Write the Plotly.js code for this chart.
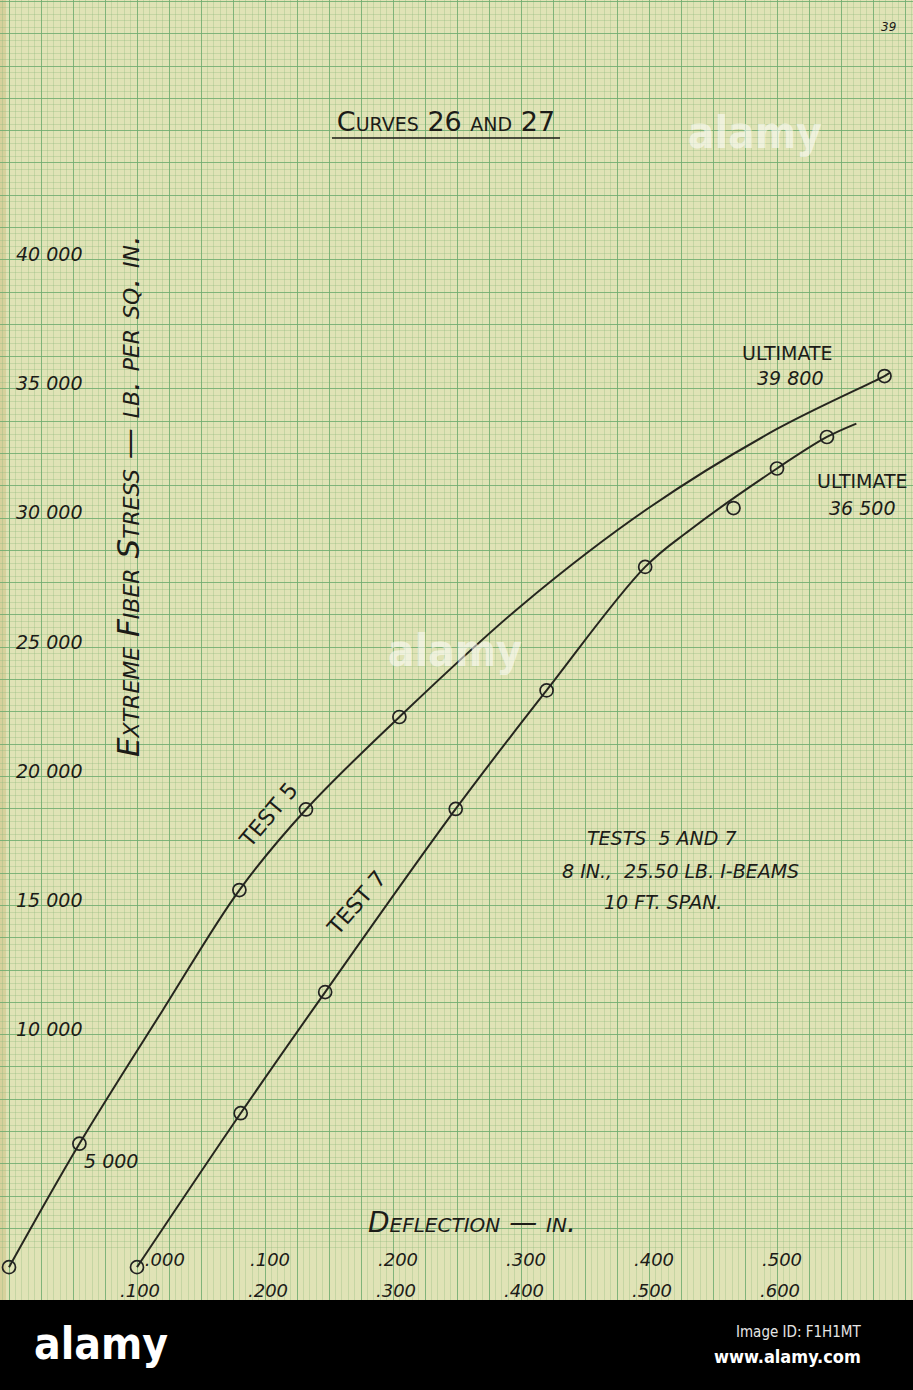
<!DOCTYPE html>
<html>
<head>
<meta charset="utf-8">
<script src="https://cdn.plot.ly/plotly-3.0.1.min.js"></script>
<style>
html,body{margin:0;padding:0;background:#000;}
#chart{width:913px;height:1390px;}
</style>
</head>
<body>
<div id="chart"></div>
<script>
// ---- data ----
// Test 5 (deflection in inches, lower scale) - observed points
const test5Deflection = [0.000, 0.055, 0.180, 0.232, 0.305, 0.684];
const test5Stress     = [1000, 5780, 15600, 18720, 22300, 35500];
// Test 5 faired curve
const test5CurveDeflection = [0.000, 0.055, 0.120, 0.180, 0.232, 0.305, 0.400, 0.500, 0.600, 0.684, 0.688];
const test5CurveStress     = [1000, 5780, 10940, 15600, 18720, 22300, 26600, 30400, 33450, 35500, 35620];

// Test 7 (deflection in inches, upper scale) - observed points
const test7Deflection = [0.000, 0.081, 0.147, 0.249, 0.320, 0.397, 0.466, 0.500, 0.539];
const test7Stress     = [1000, 6960, 11650, 18740, 23330, 28110, 30390, 31920, 33140];
// Test 7 faired curve
const test7CurveDeflection = [0.000, 0.081, 0.147, 0.249, 0.320, 0.397, 0.432, 0.500, 0.539, 0.562];
const test7CurveStress     = [1000, 6960, 11650, 18740, 23330, 28110, 29540, 31920, 33140, 33660];

// tick labels
const stressTickVals = [10000, 15000, 20000, 25000, 30000, 35000, 40000];
const stressTickText = ['10 000', '15 000', '20 000', '25 000', '30 000', '35 000', '40 000'];
const test5TickVals = [0.1, 0.2, 0.3, 0.4, 0.5, 0.6];
const test5TickText = ['.100', '.200', '.300', '.400', '.500', '.600'];
const test7TickVals = [0.0, 0.1, 0.2, 0.3, 0.4, 0.5];
const test7TickText = ['\u00a0\u00a0\u00a0\u00a0\u00a0\u00a0\u00a0\u00a0.000', '.100', '.200', '.300', '.400', '.500'];
const test7Offset = 0.1;   // Test 7 scale is shifted by .100 in. against Test 5

// ---- geometry / style ----
const W = 913, PH = 1300;
const X0PX = 9, PX_PER_IN = 1280;
const Y0PX = 1293, PX_PER_PSI = 0.02583;
const x5Range = [(0 - X0PX) / PX_PER_IN, (W - X0PX) / PX_PER_IN];
const x7Range = [x5Range[0] - test7Offset, x5Range[1] - test7Offset];
const yRange = [(Y0PX - PH) / PX_PER_PSI, Y0PX / PX_PER_PSI];
const px = x => x / W;
const py = y => (PH - y) / PH;

const INK = '#1c1c18';
const FONT = 'DejaVu Sans';
const NARROW = 'Liberation Sans Narrow, DejaVu Sans Condensed, Liberation Sans';
const PAPER = '#e0e3b6';
const MAJ = 'rgba(110,172,112,0.85)';
const MIN = 'rgba(140,185,125,0.32)';

const lineStyle = {color: '#26261f', width: 2, shape: 'spline', smoothing: 1};
const markerStyle = {symbol: 'circle-open', size: 13, color: '#222', line: {width: 1.7, color: '#222'}};

const traces = [
  {x: test5CurveDeflection, y: test5CurveStress, mode: 'lines', line: lineStyle, xaxis: 'x', yaxis: 'y', hoverinfo: 'skip', name: 'Test 5'},
  {x: test5Deflection, y: test5Stress, mode: 'markers', marker: markerStyle, xaxis: 'x3', yaxis: 'y', name: 'Test 5 points'},
  {x: test7CurveDeflection, y: test7CurveStress, mode: 'lines', line: lineStyle, xaxis: 'x2', yaxis: 'y', hoverinfo: 'skip', name: 'Test 7'},
  {x: test7Deflection, y: test7Stress, mode: 'markers', marker: markerStyle, xaxis: 'x2', yaxis: 'y2', name: 'Test 7 points'}
];

const tickFont = {family: FONT, size: 18, color: INK, style: 'italic'};
const yTickFont = {family: FONT, size: 19, color: INK, style: 'italic'};

function ann(text, x, y, opts) {
  return Object.assign({
    text: text, xref: 'paper', yref: 'paper', x: px(x), y: py(y),
    xanchor: 'center', yanchor: 'middle', showarrow: false,
    font: {family: FONT, size: 18, color: INK}
  }, opts || {});
}
function wm(text, x, y, size) {
  return ann(text, x, y, {font: {family: NARROW, size: size, color: 'rgba(255,255,255,0.55)', weight: 'bold'}});
}

const annotations = [
  ann('39', 888, 27, {font: {family: FONT, size: 12, color: INK, style: 'italic'}}),
  ann('Extreme Fiber Stress \u2014 lb. per sq. in.', 128, 496, {textangle: -90, font: {family: FONT, size: 31, color: INK, style: 'italic', variant: 'small-caps'}}),
  ann('Deflection \u2014 in.', 472, 1222, {font: {family: FONT, size: 28, color: INK, style: 'italic', variant: 'small-caps'}}),
  {text: '5 000', xref: 'paper', yref: 'y', x: px(111), y: 5000, xanchor: 'center', yanchor: 'middle', yshift: 3, showarrow: false, font: yTickFont},
  ann('ULTIMATE', 787, 353, {font: {family: FONT, size: 19, color: INK}}),
  ann('39 800', 790, 378, {font: {family: FONT, size: 19, color: INK, style: 'italic'}}),
  ann('ULTIMATE', 862, 481, {font: {family: FONT, size: 19, color: INK}}),
  ann('36 500', 862, 508, {font: {family: FONT, size: 19, color: INK, style: 'italic'}}),
  ann('TESTS \u00a05 AND 7', 662, 838, {font: {family: FONT, size: 19, color: INK, style: 'italic'}}),
  ann('8 IN., \u00a025.50 LB. I-BEAMS', 680, 871, {font: {family: FONT, size: 19, color: INK, style: 'italic'}}),
  ann('10 FT. SPAN.', 663, 902, {font: {family: FONT, size: 19, color: INK, style: 'italic'}}),
  ann('TEST 5', 268, 815, {textangle: -50, font: {family: FONT, size: 22, color: INK}}),
  ann('TEST 7', 356, 903, {textangle: -49, font: {family: FONT, size: 22, color: INK}}),
  // watermarks of the source image
  wm('alamy', 755, 132, 44),
  wm('alamy', 455, 650, 44),
  // banner
  ann('alamy', 101, 1343, {font: {family: NARROW, size: 44, color: '#ffffff', weight: 'bold'}}),
  ann('Image ID: F1H1MT', 863, 1332, {xanchor: 'right', font: {family: NARROW, size: 15, color: '#e6e6e6'}}),
  ann('www.alamy.com', 863, 1356, {xanchor: 'right', font: {family: NARROW, size: 18, color: '#ffffff', weight: 'bold'}})
];

const shapes = [
  {type: 'rect', xref: 'paper', yref: 'paper', x0: 0, x1: px(6), y0: 0, y1: 1, line: {width: 0}, fillcolor: '#d6d19c', layer: 'below'},
  {type: 'line', xref: 'paper', yref: 'paper', x0: px(332), x1: px(560), y0: py(138), y1: py(138), line: {color: INK, width: 1.6}}
];

const hidden = {zeroline: false, showline: false, ticks: '', fixedrange: true};

const layout = {
  width: 913, height: 1390,
  margin: {l: 0, r: 0, t: 0, b: 90, pad: 0},
  paper_bgcolor: '#000000',
  plot_bgcolor: PAPER,
  showlegend: false,
  title: {
    text: 'Curves 26 and 27',
    font: {family: FONT, size: 27, color: INK, variant: 'small-caps'},
    x: px(446), xanchor: 'center', y: 1 - 122 / 1390, yanchor: 'middle'
  },
  xaxis: Object.assign({}, hidden, {
    range: x5Range, tick0: 0, dtick: 0.025, showticklabels: false,
    showgrid: true, gridcolor: MAJ, gridwidth: 1,
    minor: {tick0: 0, dtick: 0.005, showgrid: true, gridcolor: MIN, gridwidth: 1, ticks: ''}
  }),
  xaxis2: Object.assign({}, hidden, {
    overlaying: 'x', anchor: 'free', position: 0.021, side: 'bottom',
    range: x7Range, tickmode: 'array', tickvals: test7TickVals, ticktext: test7TickText,
    ticklabelposition: 'inside', ticklabelshift: 5, showgrid: false, tickfont: tickFont
  }),
  xaxis3: Object.assign({}, hidden, {
    overlaying: 'x', anchor: 'free', position: 0, side: 'bottom',
    range: x5Range, tickmode: 'array', tickvals: test5TickVals, ticktext: test5TickText,
    ticklabelposition: 'inside', ticklabelshift: 3, ticklabelstandoff: -4, showgrid: false, tickfont: tickFont
  }),
  yaxis: Object.assign({}, hidden, {
    range: yRange, tick0: 0, dtick: 1250, showticklabels: false,
    showgrid: true, gridcolor: MAJ, gridwidth: 1,
    minor: {tick0: 0, dtick: 250, showgrid: true, gridcolor: MIN, gridwidth: 1, ticks: ''}
  }),
  yaxis2: Object.assign({}, hidden, {
    overlaying: 'y', anchor: 'free', position: 0, side: 'left',
    range: yRange, tickmode: 'array', tickvals: stressTickVals, ticktext: stressTickText,
    ticklabelposition: 'inside top', ticklabelstandoff: 12, ticklabelshift: 8, showgrid: false, tickfont: yTickFont
  }),
  annotations: annotations,
  shapes: shapes
};

Plotly.newPlot('chart', traces, layout, {staticPlot: true, displayModeBar: false});
</script>
</body>
</html>
